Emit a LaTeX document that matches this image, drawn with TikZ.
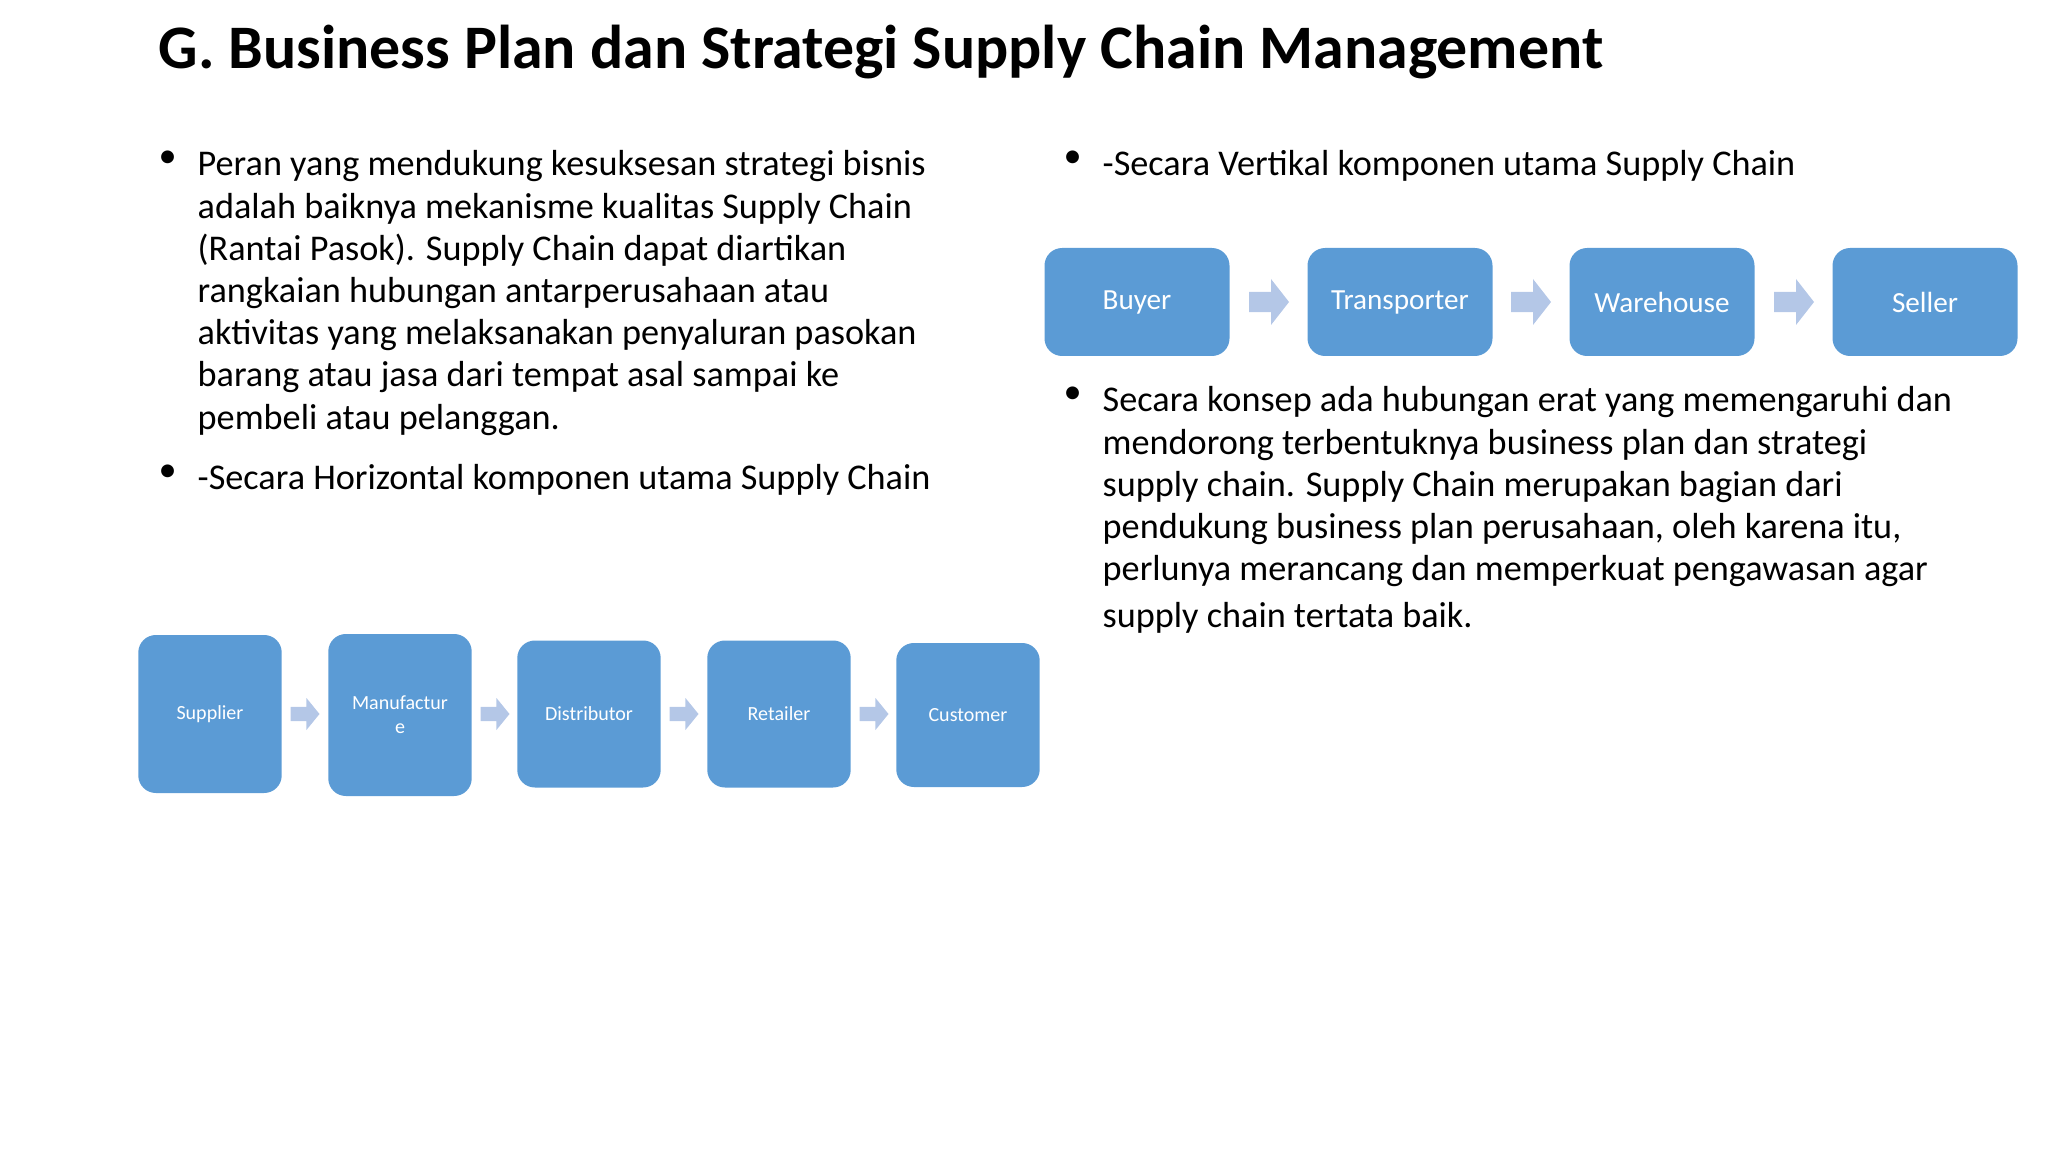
\documentclass[tikz,border=0pt]{standalone}
\usepackage{fontspec}
\setmainfont{Carlito}
\begin{document}
\begin{tikzpicture}[x=0.01cm,y=-0.01cm,
  box/.style={fill=boxblue,rounded corners=5pt,draw=none,text=white,align=center},
  bigbox/.style={box,minimum width=185*0.01cm,minimum height=108*0.01cm,font=\fontsize{8.3pt}{10pt}\selectfont},
  smallbox/.style={box,minimum width=132*0.01cm,font=\fontsize{5.7pt}{6.8pt}\selectfont,text width=120*0.01cm},
  body/.style={anchor=north west,align=left,inner sep=0pt,font=\fontsize{10.3pt}{12pt}\selectfont},
  bul/.style={anchor=north west,inner sep=0pt,font=\fontsize{10.3pt}{12pt}\selectfont}]
\definecolor{boxblue}{HTML}{5B9BD5}
\definecolor{arrblue}{HTML}{B4C7E7}
\newcommand{\arr}[4]{\fill[arrblue] (#1-#3/2,#2-#4*0.22) -- (#1+#3*0.05,#2-#4*0.22) -- (#1+#3*0.05,#2-#4/2) -- (#1+#3/2,#2) -- (#1+#3*0.05,#2+#4/2) -- (#1+#3*0.05,#2+#4*0.22) -- (#1-#3/2,#2+#4*0.22) -- cycle;}
\useasboundingbox (0,0) rectangle (2048,1152);
\node[anchor=base west,inner sep=0pt,font=\fontsize{17.6pt}{20pt}\selectfont\bfseries] (title) at (158,69) {G. Business Plan dan Strategi Supply Chain Management};
% left text
\node[bul] (b1) at (158,150) {•};
\node[body] (t1) at (197,150) {Peran yang mendukung kesuksesan strategi bisnis\\adalah baiknya mekanisme kualitas Supply Chain\\(Rantai Pasok). Supply Chain dapat diartikan\\rangkaian hubungan antarperusahaan atau\\aktivitas yang melaksanakan penyaluran pasokan\\barang atau jasa dari tempat asal sampai ke\\pembeli atau pelanggan.};
\node[bul] (b2) at (158,464) {•};
\node[body] (t2) at (197,464) {-Secara Horizontal komponen utama Supply Chain};
% right text
\node[bul] (b3) at (1063,150) {•};
\node[body] (t3) at (1102,150) {-Secara Vertikal komponen utama Supply Chain};
\node[bul] (b4) at (1063,386) {•};
\node[body] (t4) at (1102,386) {Secara konsep ada hubungan erat yang memengaruhi dan\\mendorong terbentuknya business plan dan strategi\\supply chain. Supply Chain merupakan bagian dari\\pendukung business plan perusahaan, oleh karena itu,\\perlunya merancang dan memperkuat pengawasan agar\\[1.2pt]supply chain tertata baik.};
% vertical chain
\node[bigbox] (buyer) at (1137,302) {Buyer};
\node[bigbox] (trans) at (1400,302) {Transporter};
\node[bigbox] (ware) at (1662,302) {Warehouse};
\node[bigbox] (sell) at (1925,302) {Seller};
\arr{1269}{302}{40}{46}
\arr{1531}{302}{40}{46}
\arr{1794}{302}{40}{46}
% horizontal chain
\node[smallbox,minimum height=158*0.01cm] (sup) at (210,714) {Supplier};
\node[smallbox,minimum height=162*0.01cm] (man) at (400,715) {Manufactur\\e};
\node[smallbox,minimum height=147*0.01cm] (dis) at (589,714) {Distributor};
\node[smallbox,minimum height=147*0.01cm] (ret) at (779,714) {Retailer};
\node[smallbox,minimum height=144*0.01cm] (cus) at (968,715) {Customer};
\arr{305}{714}{29}{32}
\arr{495}{714}{29}{32}
\arr{684}{714}{29}{32}
\arr{874}{714}{29}{32}
\end{tikzpicture}
\end{document}
